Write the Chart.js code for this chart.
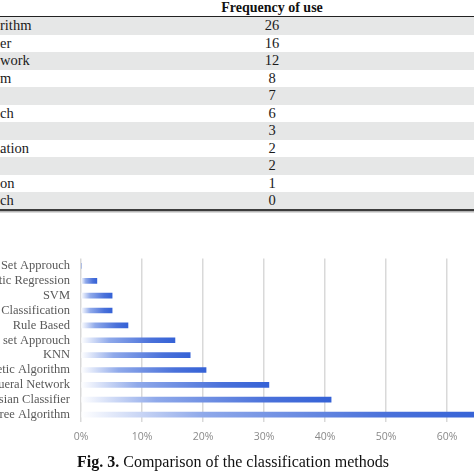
<!DOCTYPE html>
<html>
<head>
<meta charset="utf-8">
<script src="https://cdn.jsdelivr.net/npm/chart.js@4.4.1/dist/chart.umd.min.js"></script>
<style>
    html, body {
        margin: 0;
        padding: 0;
        width: 474px;
        height: 474px;
        overflow: hidden;
        background: #ffffff;
        position: relative;
        font-family: "Liberation Serif", "DejaVu Serif", serif;
    }
    #freq-table {
        position: absolute;
        left: 0;
        top: 0;
        width: 474px;
        height: 214px;
    }
    .tbl-header {
        position: absolute;
        left: 0;
        top: 0;
        width: 474px;
        height: 16px;
        border-bottom: 1px solid #222;
    }
    .tbl-header span {
        position: absolute;
        left: 172px;
        width: 200px;
        text-align: center;
        top: -1px;
        font-weight: bold;
        font-size: 14px;
        line-height: 17px;
        color: #111;
    }
    .tbl-row {
        position: absolute;
        left: 0;
        width: 474px;
        height: 17.5px;
        font-size: 14.5px;
        line-height: 17.5px;
        color: #1a1a1a;
    }
    .tbl-row.shaded {
        background: #e6e7e7;
    }
    .tbl-row .name {
        position: absolute;
        left: 0;
    }
    .tbl-row .num {
        position: absolute;
        left: 222px;
        width: 100px;
        text-align: center;
    }
    .tbl-bottom {
        position: absolute;
        left: 0;
        top: 209px;
        width: 474px;
        height: 2px;
        background: #3c3c3c;
        box-shadow: 0 1.5px 0 #b5b5b5;
    }
    #chart-wrap {
        position: absolute;
        left: -100px;
        top: 240px;
        width: 630px;
        height: 216px;
    }
    #caption {
        position: absolute;
        left: 77px;
        top: 452px;
        white-space: nowrap;
        font-size: 16px;
        line-height: 20px;
        color: #111;
    }
</style>
</head>
<body>

<div id="freq-table"></div>

<div id="chart-wrap">
    <canvas id="methods-chart" width="630" height="216"></canvas>
</div>

<div id="caption"><b>Fig. 3.</b> Comparison of the classification methods</div>

<script>
// Table data (left column is cut off in the figure, only the visible ends are kept)
const tableNames = ['rithm', 'er', 'work', 'm', '', 'ch', '', 'ation', '', 'on', 'ch'];
const frequency = [26, 16, 12, 8, 7, 6, 3, 2, 2, 1, 0];

// Chart data, top to bottom
const methods = [
    'Soft Set Approuch',
    'Logistic Regression',
    'SVM',
    'Fuzzy Classification',
    'Rule Based',
    'Rough set Approuch',
    'KNN',
    'Genetic Algorithm',
    'Nueral Network',
    'Bayesian Classifier',
    'Decision Tree Algorithm'
];
const share = [0, 2.6, 5.1, 5.1, 7.7, 15.4, 17.9, 20.5, 30.8, 41.0, 66.7];
const xTicks = [0, 10, 20, 30, 40, 50, 60, 70];

const barBlue = '#3562d6';
const gridGrey = '#d9d9d9';

// Build the frequency table
function buildTable() {
    const tableEl = document.getElementById('freq-table');
    let html = '<div class="tbl-header"><span>Frequency of use</span></div>';
    frequency.forEach((count, i) => {
        const top = 17 + i * 17.5;
        html += `
            <div class="tbl-row ${i % 2 === 0 ? 'shaded' : ''}" style="top: ${top}px;">
                <span class="name">${tableNames[i]}</span>
                <span class="num">${count}</span>
            </div>`;
    });
    html += '<div class="tbl-bottom"></div>';
    tableEl.innerHTML = html;
}

// Fade each bar from white at 0% to blue at its end
function barGradient(context) {
    const chart = context.chart;
    if (!chart.chartArea || !chart.scales.x) return barBlue;
    const value = context.raw || 0;
    const x0 = chart.scales.x.getPixelForValue(0);
    const x1 = chart.scales.x.getPixelForValue(value);
    if (x1 - x0 < 1) return barBlue;
    const g = chart.ctx.createLinearGradient(x0, 0, x1, 0);
    g.addColorStop(0, 'rgba(255, 255, 255, 1)');
    g.addColorStop(0.3, '#8fa9ea');
    g.addColorStop(0.75, '#4a71da');
    g.addColorStop(1, barBlue);
    return g;
}

function drawChart() {
    const ctx = document.getElementById('methods-chart');

    new Chart(ctx, {
        type: 'bar',
        data: {
            labels: methods,
            datasets: [{
                data: share,
                backgroundColor: barGradient,
                borderWidth: 0,
                barThickness: 5
            }]
        },
        options: {
            indexAxis: 'y',
            responsive: false,
            animation: false,
            devicePixelRatio: 1,
            layout: {
                padding: { left: 0, right: 22, top: 16, bottom: 4 }
            },
            plugins: {
                legend: { display: false },
                tooltip: { enabled: false }
            },
            scales: {
                x: {
                    min: 0,
                    max: 70,
                    afterBuildTicks: (scale) => {
                        scale.ticks = xTicks.map(v => ({ value: v }));
                    },
                    afterFit: (scale) => {
                        scale.height = 30;
                    },
                    grid: {
                        color: gridGrey,
                        lineWidth: 1.5,
                        drawTicks: false
                    },
                    border: { display: false },
                    ticks: {
                        padding: 9,
                        color: '#8a8a8a',
                        font: { family: '"Open Sans", "Liberation Sans", sans-serif', size: 10.5 },
                        callback: (v) => v + '%'
                    }
                },
                y: {
                    afterFit: (scale) => {
                        scale.width = 181;
                    },
                    grid: { display: false, drawTicks: false },
                    border: { display: false },
                    ticks: {
                        autoSkip: false,
                        padding: 11,
                        color: '#595959',
                        font: { family: '"Liberation Serif", "DejaVu Serif", serif', size: 12.5 }
                    }
                }
            }
        }
    });
}

buildTable();
drawChart();
</script>
</body>
</html>
